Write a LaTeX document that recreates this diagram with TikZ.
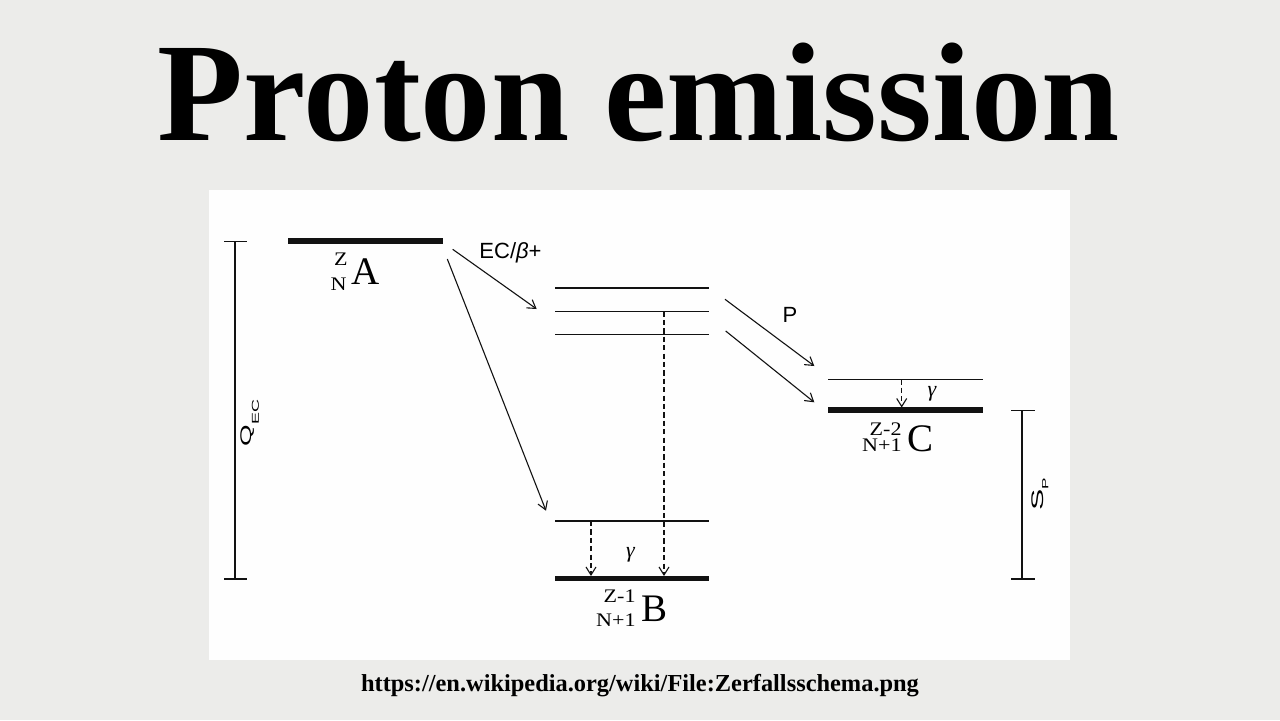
\documentclass[tikz,border=0pt]{standalone}
\usepackage{fontspec}
\setmainfont{Liberation Serif}
\setsansfont{Liberation Sans}
\usetikzlibrary{arrows.meta}
\definecolor{bg}{RGB}{236,236,234}
\definecolor{panel}{RGB}{254,254,254}
\definecolor{ink}{RGB}{18,18,18}
\newcommand\widetext[1]{\scalebox{1.15}[1]{#1}}
\begin{document}
\begin{tikzpicture}[x=0.5pt,y=-0.5pt,
  thicklevel/.style={line width=2.7pt, ink},
  thinlevel/.style={line width=0.65pt, ink},
  arr/.style={line width=0.55pt, ink, -{Straight Barb[length=4pt,width=5pt,line width=0.55pt]}},
  dasharr/.style={arr, dash pattern=on 2.6pt off 1.6pt},
  bracket/.style={line width=0.65pt, ink},
  supl/.style={inner sep=0pt, anchor=east, font=\fontsize{9.6}{10}\selectfont},
  bigl/.style={inner sep=0pt, font=\fontsize{19.5}{20}\selectfont},
  lab/.style={inner sep=0pt, font=\sffamily\fontsize{11}{12}\selectfont},
  gam/.style={inner sep=0pt, font=\fontsize{11}{12}\selectfont\itshape},
]
\useasboundingbox (0,0) rectangle (1280,720);
\fill[bg] (0,0) rectangle (1280,720);
\fill[panel] (209,190) rectangle (1070,660);

% title and source
\node[anchor=base, inner sep=0pt, font=\fontsize{70.3}{72}\selectfont\bfseries] (title) at (639,140) {Proton emission};
\node[anchor=base, inner sep=0pt, font=\fontsize{12.2}{13}\selectfont\bfseries] (src) at (640,691) {https://en.wikipedia.org/wiki/File:Zerfallsschema.png};

% level end points
\coordinate (A1) at (288,241);   \coordinate (A2) at (443,241);
\coordinate (I1a) at (555,288);  \coordinate (I1b) at (709,288);
\coordinate (I2a) at (555,311.5);\coordinate (I2b) at (709,311.5);
\coordinate (I3a) at (555,334.5);\coordinate (I3b) at (709,334.5);
\coordinate (Bua) at (555,521);  \coordinate (Bub) at (709,521);
\coordinate (B1) at (555,578.5); \coordinate (B2) at (709,578.5);
\coordinate (Cua) at (828,379.3);\coordinate (Cub) at (983,379.3);
\coordinate (C1) at (828,410);   \coordinate (C2) at (983,410);

\draw[thicklevel] (A1) -- (A2);
\draw[thinlevel] (I1a) -- (I1b);
\draw[thinlevel] (I2a) -- (I2b);
\draw[thinlevel] (I3a) -- (I3b);
\draw[thinlevel] (Bua) -- (Bub);
\draw[thicklevel] (B1) -- (B2);
\draw[thinlevel] (Cua) -- (Cub);
\draw[thicklevel] (C1) -- (C2);

% decay arrows
\coordinate (ecS) at (452.7,249.3); \coordinate (ecE) at (536.7,309);
\coordinate (lgS) at (447.3,259);   \coordinate (lgE) at (546,510.7);
\coordinate (p1S) at (725,299.3);   \coordinate (p1E) at (814.3,366);
\coordinate (p2S) at (725.7,331);   \coordinate (p2E) at (814.3,402.3);
\draw[arr] (ecS) -- (ecE);
\draw[arr] (lgS) -- (lgE);
\draw[arr] (p1S) -- (p1E);
\draw[arr] (p2S) -- (p2E);

% gamma transitions
\coordinate (g1S) at (591,521);   \coordinate (g1E) at (591,576);
\coordinate (g2S) at (664,311.5); \coordinate (g2E) at (664,576);
\coordinate (g3S) at (901.7,379.3); \coordinate (g3E) at (901.7,407.5);
\draw[dasharr] (g1S) -- (g1E);
\draw[dasharr] (g2S) -- (g2E);
\draw[dasharr] (g3S) -- (g3E);

% brackets
\coordinate (qT) at (235,241.7); \coordinate (qB) at (235,579);
\coordinate (qTl) at (224,241.7); \coordinate (qTr) at (247,241.7);
\coordinate (qBl) at (224,579); \coordinate (qBr) at (247,579);
\draw[bracket] (qT) -- (qB);
\draw[bracket] (qTl) -- (qTr);
\draw[bracket] (qBl) -- (qBr);
\coordinate (sT) at (1022,410.7); \coordinate (sB) at (1022,579);
\coordinate (sTl) at (1011,410.7); \coordinate (sTr) at (1035,410.7);
\coordinate (sBl) at (1011,579); \coordinate (sBr) at (1035,579);
\draw[bracket] (sT) -- (sB);
\draw[bracket] (sTl) -- (sTr);
\draw[bracket] (sBl) -- (sBr);

% labels
\node[lab, anchor=base] (ec) at (510.5,258) {EC/\textit{β}+};
\node[lab] (p) at (790,315) {P};
\node[gam] (gB) at (630.5,555) {γ};
\node[gam] (gC) at (932,394) {γ};
\node[rotate=90, inner sep=0pt, font=\sffamily] (qec) at (250,423)
  {\scalebox{1.8}[1]{\fontsize{7.7}{8}\selectfont Q\raisebox{-3.6pt}{\fontsize{5}{5}\selectfont EC}}};
\node[rotate=90, inner sep=0pt, font=\sffamily] (sp) at (1040,494)
  {\scalebox{1.9}[1]{\fontsize{8.4}{9}\selectfont S\raisebox{-2.6pt}{\fontsize{4.5}{5}\selectfont P}}};

% nuclide labels
\node[supl] (Az) at (348,259) {\widetext{Z}};
\node[supl] (An) at (347,284.5) {\widetext{N}};
\node[bigl] (A) at (365.5,272) {A};
\node[supl] (Bz) at (636,596.5) {\widetext{Z-1}};
\node[supl] (Bn) at (636,620.5) {\widetext{N+1}};
\node[bigl] (B) at (654,609) {B};
\node[supl] (Cz) at (902,429) {\widetext{Z-2}};
\node[supl] (Cn) at (902,445.5) {\widetext{N+1}};
\node[bigl] (C) at (920.5,438.5) {C};
\end{tikzpicture}
\end{document}
